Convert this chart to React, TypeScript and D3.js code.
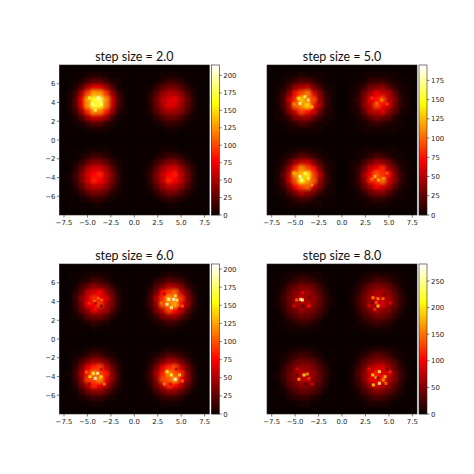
import React from "react";
import * as d3 from "d3";

const titles = ["step size = 2.0", "step size = 5.0", "step size = 6.0", "step size = 8.0"];
const maxima = [215, 195, 207, 282];
const cbTicks = [
  [0, 25, 50, 75, 100, 125, 150, 175, 200],
  [0, 25, 50, 75, 100, 125, 150, 175],
  [0, 25, 50, 75, 100, 125, 150, 175, 200],
  [0, 50, 100, 150, 200, 250],
];
const xTickValues = [-7.5, -5, -2.5, 0, 2.5, 5, 7.5];
const yTickValues = [-6, -4, -2, 0, 2, 4, 6];

const p1UL = [
  [0, 1, 2, 5, 7, 7, 5, 2, 1, 0],
  [1, 3, 8, 18, 27, 26, 16, 7, 3, 1],
  [2, 8, 26, 52, 70, 68, 50, 24, 6, 2],
  [4, 16, 52, 100, 132, 128, 94, 48, 14, 3],
  [4, 26, 70, 130, 168, 180, 124, 65, 23, 4],
  [4, 24, 68, 126, 172, 166, 120, 62, 21, 4],
  [3, 14, 48, 90, 124, 118, 86, 44, 12, 3],
  [2, 6, 21, 46, 62, 60, 44, 19, 5, 2],
  [0, 3, 7, 14, 24, 22, 12, 5, 2, 0],
  [0, 1, 2, 4, 5, 5, 3, 2, 0, 0],
];
const p1UR = [
  [0, 0, 2, 3, 4, 4, 2, 2, 0, 0],
  [0, 2, 4, 9, 15, 14, 9, 4, 2, 0],
  [2, 4, 12, 25, 34, 33, 24, 10, 4, 2],
  [2, 9, 25, 44, 55, 52, 42, 22, 7, 2],
  [2, 12, 33, 54, 66, 72, 50, 31, 10, 2],
  [2, 10, 31, 52, 70, 64, 48, 29, 10, 2],
  [2, 7, 22, 40, 49, 47, 38, 21, 7, 2],
  [0, 4, 10, 22, 31, 29, 20, 9, 4, 0],
  [0, 2, 4, 7, 12, 12, 7, 4, 2, 0],
  [0, 0, 2, 2, 4, 4, 2, 0, 0, 0],
];
const p1LL = [
  [0, 0, 2, 4, 5, 4, 4, 2, 0, 0],
  [0, 2, 4, 10, 17, 17, 10, 4, 2, 0],
  [2, 4, 14, 28, 40, 38, 27, 14, 4, 2],
  [2, 9, 28, 52, 65, 64, 49, 26, 9, 2],
  [4, 14, 38, 64, 80, 88, 60, 36, 12, 2],
  [4, 14, 36, 62, 86, 78, 57, 34, 12, 2],
  [2, 9, 26, 47, 58, 56, 43, 24, 7, 2],
  [0, 4, 14, 26, 36, 34, 25, 10, 4, 0],
  [0, 2, 4, 9, 15, 14, 7, 4, 2, 0],
  [0, 0, 2, 2, 4, 4, 2, 2, 0, 0],
];
const p1LR = [
  [0, 0, 2, 4, 4, 4, 2, 2, 0, 0],
  [0, 2, 4, 10, 17, 15, 10, 4, 2, 0],
  [2, 4, 14, 27, 38, 39, 26, 12, 4, 2],
  [2, 9, 27, 48, 62, 66, 46, 25, 9, 2],
  [4, 14, 37, 60, 78, 86, 58, 34, 12, 2],
  [2, 12, 35, 58, 88, 76, 55, 33, 10, 2],
  [2, 9, 25, 45, 56, 54, 41, 22, 7, 2],
  [0, 4, 12, 25, 35, 33, 22, 10, 4, 0],
  [0, 2, 4, 9, 14, 12, 7, 4, 2, 0],
  [0, 0, 2, 2, 4, 4, 2, 2, 0, 0],
];
const p2UL = [
  [0, 1, 2, 4, 7, 5, 4, 2, 1, 0],
  [1, 3, 7, 15, 22, 20, 12, 5, 2, 0],
  [2, 5, 20, 40, 50, 54, 32, 18, 5, 2],
  [2, 15, 34, 76, 92, 108, 62, 36, 10, 2],
  [3, 17, 56, 84, 130, 104, 92, 42, 17, 3],
  [3, 19, 44, 100, 112, 134, 74, 46, 14, 3],
  [2, 10, 36, 58, 90, 76, 60, 27, 10, 2],
  [2, 5, 15, 34, 40, 44, 26, 15, 3, 2],
  [0, 2, 5, 10, 20, 15, 10, 3, 2, 0],
  [0, 0, 2, 3, 3, 3, 2, 2, 0, 0],
];
const p2UR = [
  [0, 0, 2, 3, 3, 3, 3, 2, 0, 0],
  [0, 2, 3, 12, 14, 15, 8, 5, 2, 0],
  [2, 5, 14, 30, 34, 40, 24, 14, 3, 2],
  [2, 8, 30, 46, 68, 56, 50, 24, 8, 2],
  [2, 14, 34, 66, 74, 90, 52, 36, 10, 2],
  [2, 10, 38, 54, 90, 70, 60, 30, 12, 2],
  [2, 8, 23, 50, 52, 62, 38, 24, 7, 2],
  [0, 3, 12, 23, 34, 28, 23, 8, 3, 0],
  [0, 2, 3, 10, 12, 12, 5, 3, 2, 0],
  [0, 0, 2, 2, 3, 2, 2, 2, 0, 0],
];
const p2LL = [
  [0, 1, 2, 5, 7, 7, 3, 2, 1, 0],
  [1, 3, 8, 15, 26, 20, 14, 5, 2, 0],
  [2, 7, 22, 44, 54, 58, 35, 20, 5, 2],
  [3, 14, 42, 80, 112, 92, 74, 33, 12, 2],
  [3, 23, 52, 116, 128, 142, 88, 52, 17, 3],
  [3, 19, 56, 96, 148, 118, 98, 42, 17, 3],
  [2, 14, 34, 72, 88, 100, 56, 35, 10, 2],
  [2, 5, 20, 32, 50, 41, 32, 14, 5, 2],
  [0, 2, 5, 14, 18, 18, 8, 3, 2, 0],
  [0, 0, 2, 3, 5, 3, 3, 2, 0, 0],
];
const p2LR = [
  [0, 0, 2, 3, 5, 3, 2, 2, 0, 0],
  [0, 2, 5, 10, 18, 15, 10, 3, 2, 0],
  [2, 3, 18, 30, 44, 40, 30, 14, 3, 2],
  [2, 12, 29, 58, 72, 82, 46, 29, 8, 2],
  [3, 14, 44, 70, 98, 84, 74, 36, 14, 2],
  [2, 15, 38, 80, 84, 104, 60, 38, 12, 2],
  [2, 8, 29, 46, 72, 60, 46, 24, 8, 2],
  [0, 3, 12, 28, 35, 36, 23, 10, 3, 0],
  [0, 2, 3, 8, 15, 12, 8, 3, 2, 0],
  [0, 0, 2, 3, 3, 3, 2, 0, 0, 0],
];
const p3UL = [
  [0, 0, 2, 3, 5, 3, 3, 2, 0, 0],
  [0, 2, 5, 8, 17, 14, 8, 3, 2, 0],
  [2, 3, 17, 26, 42, 34, 28, 12, 3, 2],
  [2, 10, 26, 54, 62, 76, 44, 27, 7, 2],
  [2, 14, 40, 62, 88, 68, 66, 32, 12, 2],
  [2, 12, 33, 70, 72, 92, 52, 34, 10, 2],
  [2, 7, 27, 42, 66, 52, 46, 22, 7, 2],
  [0, 3, 10, 26, 31, 34, 21, 10, 2, 0],
  [0, 2, 3, 7, 14, 10, 7, 2, 2, 0],
  [0, 0, 2, 2, 3, 2, 2, 2, 0, 0],
];
const p3UR = [
  [0, 1, 2, 3, 7, 5, 3, 2, 1, 0],
  [1, 3, 8, 14, 22, 18, 14, 5, 2, 0],
  [2, 5, 22, 34, 52, 46, 36, 15, 5, 2],
  [2, 14, 34, 78, 92, 106, 58, 35, 10, 2],
  [3, 17, 54, 88, 128, 104, 92, 42, 17, 2],
  [3, 19, 44, 100, 112, 128, 74, 46, 14, 3],
  [2, 10, 36, 56, 94, 76, 58, 27, 8, 2],
  [2, 5, 15, 34, 40, 44, 26, 14, 3, 2],
  [0, 2, 5, 10, 17, 14, 8, 3, 2, 0],
  [0, 0, 2, 3, 3, 3, 2, 2, 0, 0],
];
const p3LL = [
  [0, 0, 2, 3, 7, 5, 3, 2, 1, 0],
  [1, 3, 5, 14, 20, 18, 10, 5, 2, 0],
  [2, 5, 20, 34, 48, 44, 32, 15, 5, 2],
  [2, 12, 34, 68, 84, 94, 56, 32, 10, 2],
  [3, 15, 48, 82, 116, 96, 84, 40, 14, 2],
  [2, 15, 40, 92, 98, 118, 70, 42, 12, 2],
  [2, 8, 32, 54, 84, 70, 52, 26, 8, 2],
  [2, 3, 14, 30, 38, 40, 25, 12, 3, 2],
  [0, 2, 5, 10, 15, 14, 8, 3, 2, 0],
  [0, 0, 2, 2, 3, 3, 2, 2, 0, 0],
];
const p3LR = [
  [0, 1, 2, 3, 7, 5, 3, 2, 1, 0],
  [1, 3, 7, 14, 22, 18, 12, 5, 2, 0],
  [2, 5, 20, 34, 50, 46, 33, 17, 5, 2],
  [2, 12, 34, 70, 86, 98, 58, 33, 10, 2],
  [3, 17, 50, 84, 120, 100, 88, 40, 15, 2],
  [3, 15, 42, 96, 102, 124, 72, 44, 14, 2],
  [2, 10, 32, 56, 88, 72, 54, 27, 8, 2],
  [2, 3, 17, 30, 41, 38, 27, 14, 3, 2],
  [0, 2, 5, 12, 15, 15, 8, 3, 2, 0],
  [0, 0, 2, 3, 3, 3, 2, 2, 0, 0],
];
const p4UL = [
  [0, 2, 3, 7, 8, 7, 5, 3, 2, 0],
  [2, 5, 10, 17, 25, 22, 17, 7, 3, 0],
  [2, 7, 25, 36, 48, 44, 36, 20, 7, 2],
  [3, 17, 36, 54, 58, 68, 46, 32, 12, 2],
  [3, 20, 44, 58, 82, 62, 60, 38, 17, 3],
  [3, 18, 38, 64, 66, 78, 50, 38, 14, 3],
  [2, 14, 32, 44, 60, 50, 44, 27, 12, 2],
  [2, 5, 20, 32, 38, 38, 30, 17, 5, 2],
  [0, 3, 7, 14, 22, 18, 12, 5, 2, 0],
  [0, 2, 3, 5, 5, 5, 3, 2, 0, 0],
];
const p4UR = [
  [0, 2, 3, 7, 10, 7, 7, 3, 2, 0],
  [2, 5, 12, 18, 28, 24, 18, 7, 3, 2],
  [2, 10, 26, 40, 50, 48, 36, 22, 7, 2],
  [3, 17, 38, 56, 66, 72, 52, 34, 14, 2],
  [3, 22, 46, 64, 86, 70, 68, 40, 18, 3],
  [3, 20, 40, 72, 72, 90, 56, 42, 17, 3],
  [2, 17, 32, 50, 66, 54, 48, 28, 12, 2],
  [2, 7, 22, 32, 42, 40, 31, 18, 5, 2],
  [0, 3, 10, 17, 24, 20, 14, 5, 2, 0],
  [0, 2, 3, 5, 7, 5, 3, 2, 0, 0],
];
const p4LL = [
  [0, 2, 3, 5, 7, 7, 5, 2, 2, 0],
  [2, 3, 10, 17, 24, 20, 14, 7, 2, 0],
  [2, 7, 20, 34, 42, 40, 32, 18, 5, 2],
  [2, 14, 34, 48, 60, 58, 46, 30, 12, 2],
  [3, 20, 40, 60, 78, 66, 58, 36, 17, 2],
  [3, 18, 38, 56, 72, 82, 50, 36, 14, 2],
  [2, 12, 30, 42, 56, 48, 42, 27, 10, 2],
  [2, 5, 18, 29, 37, 36, 28, 17, 5, 2],
  [0, 2, 7, 14, 18, 18, 10, 5, 2, 0],
  [0, 0, 2, 2, 5, 5, 2, 2, 0, 0],
];
const p4LR = [
  [0, 2, 3, 7, 12, 10, 7, 3, 2, 0],
  [2, 5, 14, 24, 34, 30, 22, 10, 3, 2],
  [2, 12, 30, 44, 54, 54, 40, 26, 7, 2],
  [3, 20, 44, 70, 84, 90, 66, 38, 17, 3],
  [5, 28, 54, 84, 112, 92, 86, 48, 22, 3],
  [5, 24, 52, 92, 96, 116, 72, 48, 20, 3],
  [3, 18, 37, 62, 84, 72, 56, 33, 14, 2],
  [2, 7, 25, 38, 50, 46, 36, 22, 7, 2],
  [0, 3, 10, 20, 26, 24, 17, 7, 2, 0],
  [0, 2, 3, 7, 7, 7, 5, 2, 0, 0],
];
const blobs = [
  [p1UL, p1UR, p1LL, p1LR],
  [p2UL, p2UR, p2LL, p2LR],
  [p3UL, p3UR, p3LL, p3LR],
  [p4UL, p4UR, p4LL, p4LR],
];

// Single bins that stand out in each panel: x, y, count
const p1Peaks = [
  [-3.84, 4.48, 205], [-4.48, 3.84, 195], [-4.16, 3.2, 180], [-3.52, 3.84, 190], [-4.8, 4.48, 170],
];
const p2Peaks = [
  [-4.48, 3.9, 175], [-3.95, 4.62, 165], [-3.6, 4.27, 170], [-4.66, 4.45, 150], [-3.2, 3.52, 130], [-5.12, 3.84, 110],
  [-4.48, -3.9, 190], [-3.95, -3.55, 170], [-4.3, -4.27, 175], [-3.6, -4.1, 160], [-5.12, -3.52, 125], [-3.2, -4.8, 115],
  [3.52, -3.9, 130], [3.87, -4.27, 130], [4.41, -4.1, 115], [3.2, -4.16, 110], [4.8, -3.52, 100],
  [4.23, 4.27, 110], [3.7, 3.9, 105], [4.8, 3.84, 90], [3.2, 4.48, 85],
];
const p3Peaks = [
  [-3.84, 4.34, 110], [-4.2, 3.98, 125], [-3.48, 4.16, 105], [-4.8, 3.84, 85], [-4.16, 3.2, 80],
  [4.2, 4.23, 205], [3.67, 4.23, 190], [3.49, 3.7, 195], [3.95, 3.34, 190], [4.37, 4.59, 170], [4.55, 4.16, 175], [2.88, 3.84, 110], [5.12, 3.52, 105],
  [4.37, -4.3, 205], [3.95, -3.84, 170], [3.49, -3.49, 165], [4.83, -3.84, 150], [3.2, -4.8, 120], [5.12, -4.48, 110],
  [-3.9, -3.66, 190], [-4.16, -4.2, 200], [-4.73, -4.02, 160], [-3.55, -4.02, 150], [-4.37, -3.66, 170], [-5.12, -3.52, 105], [-3.2, -4.8, 115],
  [-4.16, 3.84, 40], [-3.52, 3.52, 35], [3.2, 4.8, 55], [4.8, 3.2, 50], [-4.8, -4.8, 50], [-3.52, -3.2, 60], [3.84, -4.8, 60], [4.48, -3.2, 50],
];
const p4Peaks = [
  [3.98, -3.48, 230], [3.27, -3.84, 200], [3.63, -4.09, 180], [4.59, -4.02, 190],
  [3.98, -4.73, 240], [4.41, -4.37, 170], [3.34, -4.9, 200], [4.69, -4.73, 150], [2.88, -3.2, 110], [5.12, -3.52, 120],
  [3.3, 4.4, 170], [3.84, 4.3, 165], [4.37, 4.3, 150], [3.84, 3.52, 200], [3.66, 3.87, 140], [3.5, 3.17, 120], [5.12, 3.84, 100], [2.88, 3.52, 95],
  [-4.4, 4.23, 240], [-4.23, 4.16, 270], [-4.83, 4.16, 150], [-4.23, 4.94, 100], [-3.52, 3.52, 110], [-5.12, 3.52, 95],
  [-4.05, -3.84, 220], [-3.7, -3.73, 170], [-4.6, -4.3, 170], [-3.52, -4.2, 120], [-4.8, -3.2, 95], [-3.2, -4.8, 90],
  [-4.16, 3.52, 30], [-3.52, 4.48, 35], [3.2, 3.84, 30], [4.48, 4.8, 35], [-4.8, -3.84, 35], [-3.84, -4.8, 30], [3.84, -4.16, 45], [4.8, -3.2, 40],
];
const peaks = [p1Peaks, p2Peaks, p3Peaks, p4Peaks];

const hotStops = [0, 0.365, 0.746, 1];
const hotColors = ["#0b0000", "#ff0000", "#ffff00", "#ffffff"];
const hot = d3.scaleLinear<string>().domain(hotStops).range(hotColors).clamp(true);

const cellSize = 0.64;
const binSize = 0.32;
const lefts = [59.3, 267];
const tops = [65, 264];
const plot = 150;
const tickFont = "'DejaVu Sans', sans-serif";
const fmtX = (v: number) => v.toFixed(1).replace("-", "\u2212");
const fmtY = (v: number) => String(v).replace("-", "\u2212");

function Panel({ index }: { index: number }) {
  const left = lefts[index % 2];
  const top = tops[Math.floor(index / 2)];
  const x = d3.scaleLinear().domain([-8, 8]).range([left, left + plot]);
  const y = d3.scaleLinear().domain([-8, 8]).range([top + plot, top]);
  const c = d3.scaleLinear().domain([0, maxima[index]]).range([0, 1]);
  const cb = d3.scaleLinear().domain([0, maxima[index]]).range([top + plot, top]);
  const cbLeft = left + plot + 2;
  const cbWidth = 8;
  const starts = [
    [-7.2, 7.2],
    [0.8, 7.2],
    [-7.2, -0.8],
    [0.8, -0.8],
  ];
  const cbSteps = d3.range(0, 150);
  return (
    <g>
      <clipPath id={`clip${index}`}>
        <rect x={left} y={top} width={plot} height={plot} />
      </clipPath>
      <rect x={left} y={top} width={plot} height={plot} fill={hot(0)} />
      <g clipPath={`url(#clip${index})`}>
        <g filter="url(#soft)">
          {blobs[index].map((m, b) =>
            m.map((row, r) =>
              row.map((v, col) => {
                const x0 = starts[b][0] + col * cellSize;
                const y0 = starts[b][1] - r * cellSize;
                return (
                  <rect
                    key={`${b}-${r}-${col}`}
                    x={x(x0)}
                    y={y(y0)}
                    width={x(x0 + cellSize) - x(x0) + 0.3}
                    height={y(y0 - cellSize) - y(y0) + 0.3}
                    fill={hot(c(v))}
                  />
                );
              })
            )
          )}
        </g>
        {peaks[index].map(([px, py, v], i) => (
          <rect
            key={i}
            x={x(px - binSize / 2)}
            y={y(py + binSize / 2)}
            width={x(binSize) - x(0)}
            height={y(0) - y(binSize)}
            fill={hot(c(v))}
            opacity={0.8}
          />
        ))}
      </g>
      <rect x={left} y={top} width={plot} height={plot} fill="none" stroke="#222" strokeWidth={0.6} />
      {xTickValues.map((t) => (
        <g key={t}>
          <line x1={x(t)} x2={x(t)} y1={top + plot} y2={top + plot + 2.5} stroke="#222" strokeWidth={0.6} />
          <text x={x(t)} y={top + plot + 10} textAnchor="middle" fontSize={6.9} fontFamily={tickFont} fill="#222">
            {fmtX(t)}
          </text>
        </g>
      ))}
      {index % 2 === 0 &&
        yTickValues.map((t) => (
          <g key={t}>
            <line x1={left - 2.5} x2={left} y1={y(t)} y2={y(t)} stroke="#222" strokeWidth={0.6} />
            <text x={left - 4} y={y(t) + 2.5} textAnchor="end" fontSize={6.9} fontFamily={tickFont} fill="#222">
              {fmtY(t)}
            </text>
          </g>
        ))}
      {cbSteps.map((s) => (
        <rect key={s} x={cbLeft} y={top + s} width={cbWidth} height={1.2} fill={hot(1 - s / 150)} />
      ))}
      <rect x={cbLeft} y={top} width={cbWidth} height={plot} fill="none" stroke="#222" strokeWidth={0.6} />
      {cbTicks[index].map((t) => (
        <g key={t}>
          <line x1={cbLeft + cbWidth} x2={cbLeft + cbWidth + 2.5} y1={cb(t)} y2={cb(t)} stroke="#222" strokeWidth={0.6} />
          <text x={cbLeft + cbWidth + 4} y={cb(t) + 2.5} fontSize={6.9} fontFamily={tickFont} fill="#222">
            {t}
          </text>
        </g>
      ))}
      <text x={left + plot / 2} y={top - 4} textAnchor="middle" fontSize={12.5} fontFamily="'Lato', sans-serif" fill="#111">
        {titles[index]}
      </text>
    </g>
  );
}

export default function App() {
  return (
    <svg
      width={474}
      height={474}
      viewBox="0 0 474 474"
      style={{ position: "absolute", left: 0, top: 0, background: "#fff" }}
    >
      <defs>
        <filter id="soft" x="-5%" y="-5%" width="110%" height="110%">
          <feGaussianBlur stdDeviation={1.5} />
        </filter>
      </defs>
      {titles.map((_, i) => (
        <Panel key={i} index={i} />
      ))}
    </svg>
  );
}
